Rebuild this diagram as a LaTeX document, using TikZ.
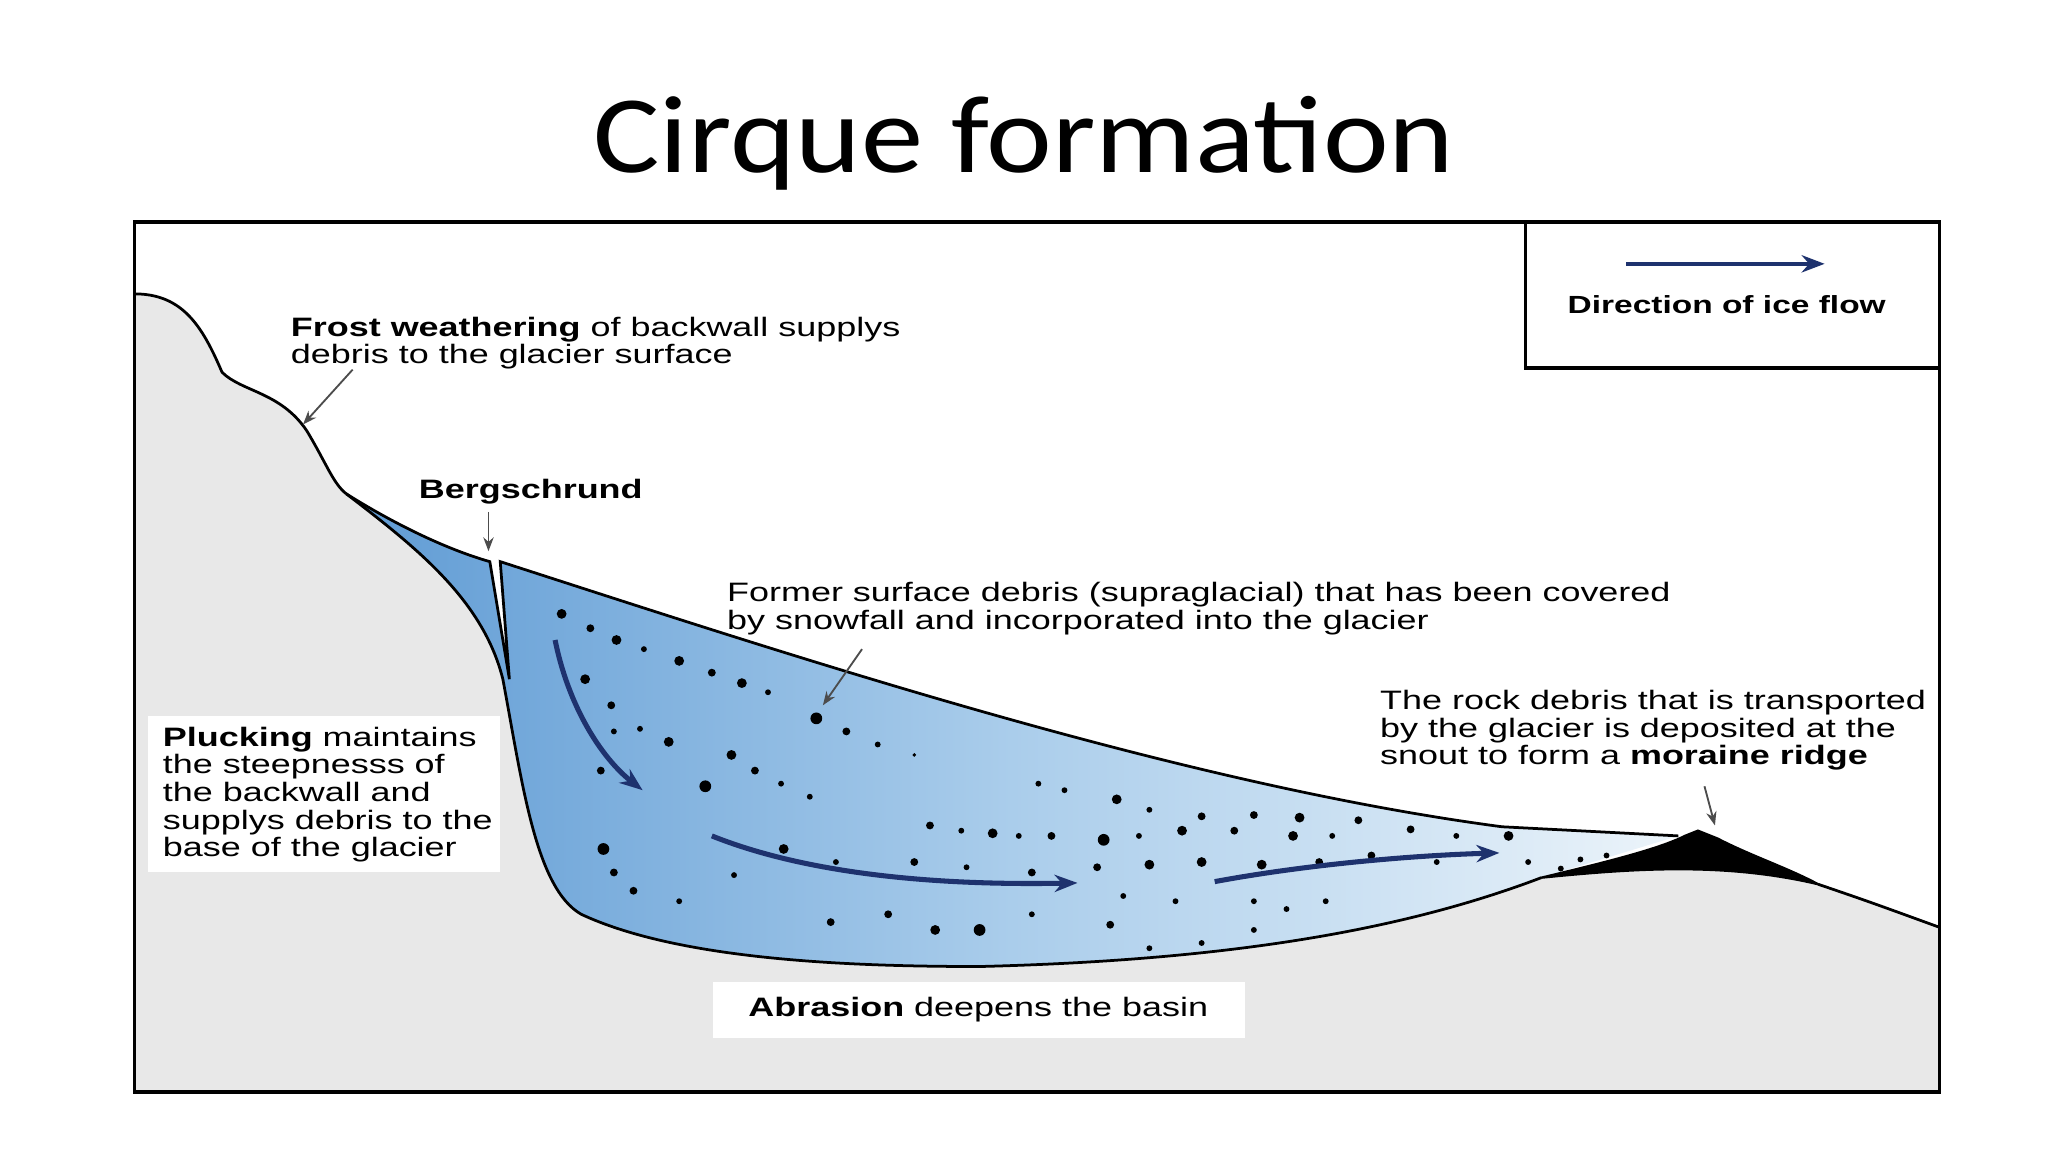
\documentclass[tikz,border=0pt]{standalone}
\usepackage{fontspec}
\usetikzlibrary{arrows.meta}
\setmainfont{Liberation Sans}[FakeStretch=1.35]
\newfontfamily\titlefont{Carlito}[FakeStretch=1.13]
\begin{document}
\begin{tikzpicture}[x=0.01cm,y=-0.01cm,
  lbl/.style={font=\fontsize{5.8}{6}\selectfont,align=left,inner sep=0pt},
  flow/.style={draw={rgb,255:red,30;green,50;blue,110},line width=1.1pt,-{Stealth[length=5pt]}},
  ptr/.style={draw=black!70,line width=0.4pt,-{Stealth[length=3pt]}}]
\useasboundingbox (0,0) rectangle (1568,882);
\fill[white] (0,0) rectangle (1568,882);
\node[font=\titlefont\fontsize{24}{28}\selectfont] (title) at (784,110) {Cirque formation};
% ground
\fill[black!9] (103,225) .. controls (140,225) and (155,250) .. (170,285)
  .. controls (185,300) and (215,300) .. (235,330)
  .. controls (250,355) and (255,370) .. (265,378)
  .. controls (320,420) and (370,460) .. (385,520)
  .. controls (400,600) and (410,680) .. (445,700)
  .. controls (520,735) and (650,740) .. (750,740)
  .. controls (950,735) and (1080,710) .. (1180,672)
  .. controls (1250,665) and (1320,660) .. (1392,677) .. controls (1430,690) .. (1485,710) -- (1485,836) -- (103,836) -- cycle;
\draw[line width=0.6pt] (103,225) .. controls (140,225) and (155,250) .. (170,285)
  .. controls (185,300) and (215,300) .. (235,330)
  .. controls (250,355) and (255,370) .. (265,378);
\draw[line width=0.6pt] (1392,677) .. controls (1430,690) .. (1485,710);
% ice
\shade[left color={rgb,255:red,95;green,155;blue,212},right color={rgb,255:red,236;green,244;blue,250},middle color={rgb,255:red,170;green,205;blue,235}]
  (265,378) .. controls (300,400) and (340,420) .. (375,430) -- (390,520) -- (383,430)
  .. controls (600,500) and (900,600) .. (1150,633) -- (1285,640)
  -- (1180,672) .. controls (1080,710) and (950,735) .. (750,740)
  .. controls (650,740) and (520,735) .. (445,700)
  .. controls (410,680) and (400,600) .. (385,520)
  .. controls (370,460) and (320,420) .. (265,378) -- cycle;
\draw[line width=0.6pt] (265,378) .. controls (300,400) and (340,420) .. (375,430) -- (390,520) -- (383,430)
  .. controls (600,500) and (900,600) .. (1150,633) -- (1285,640);
\draw[line width=0.6pt] (265,378) .. controls (320,420) and (370,460) .. (385,520)
  .. controls (400,600) and (410,680) .. (445,700)
  .. controls (520,735) and (650,740) .. (750,740)
  .. controls (950,735) and (1080,710) .. (1180,672);
% moraine
\filldraw[black,line width=0.5pt] (1180,672) .. controls (1230,660) and (1270,650) .. (1290,640) -- (1300,636) -- (1315,642)
  .. controls (1340,655) and (1370,665) .. (1392,677) .. controls (1320,660) and (1250,665) .. (1180,672) -- cycle;
% dots
\foreach \x/\y/\r in {430/470/2.5,452/481/2,472/490/2.5,493/497/1.5,520/506/2.5,545/515/2,568/523/2.5,588/530/1.5,
 448/520/2.5,468/540/2,490/558/1.5,512/568/2.5,540/602/3,560/578/2.5,578/590/2,598/600/1.5,620/610/1.5,
 460/590/2,470/560/1.5,625/550/3,648/560/2,672/570/1.5,700/578/1,
 462/650/3,470/668/2,485/682/2,520/690/1.5,562/670/1.5,600/650/2.5,640/660/1.5,680/700/2,636/706/2,
 716/712/2.5,750/712/3,790/700/1.5,850/708/2,880/726/1.5,920/722/1.5,960/712/1.5,
 712/632/2,736/636/1.5,760/638/2.5,780/640/1.5,805/640/2,845/643/3,872/640/1.5,905/636/2.5,945/636/2,990/640/2.5,1020/640/1.5,
 795/600/1.5,815/605/1.5,855/612/2.5,880/620/1.5,920/625/2,960/624/2,995/626/2.5,1040/628/2,1080/635/2,1115/640/1.5,1155/640/2.5,
 700/660/2,740/664/1.5,790/668/2,840/664/2,880/662/2.5,920/660/2.5,966/662/2.5,1010/660/2,1050/655/2,1100/660/1.5,1170/660/1.5,1210/658/1.5,
 960/690/1.5,985/696/1.5,1015/690/1.5,860/686/1.5,900/690/1.5,1195/665/1.5,1230/655/1.5}
  \fill (\x,\y) circle ({1.5*\r});
% flow arrows
\draw[flow] (425,490) .. controls (435,540) and (460,580) .. (492,605);
\draw[flow] (545,640) .. controls (620,670) and (720,678) .. (825,676);
\draw[flow] (930,675) .. controls (1000,662) and (1080,655) .. (1148,653);
% frame
\draw[line width=0.8pt] (103,170) rectangle (1485,836);
\draw[line width=0.8pt] (1168,170) rectangle (1485,282);
\coordinate (la) at (1245,202); \coordinate (lb) at (1397,202);
\draw[flow,line width=0.9pt] (la) -- (lb);
\node[lbl,font=\fontsize{5.4}{6}\selectfont\bfseries] (leg) at (1322,233) {Direction of ice flow};
% label backgrounds
\fill[white] (113,548) rectangle (383,668);
\fill[white] (546,752) rectangle (953,795);
% labels
\node[lbl,anchor=north west] (frost) at (222,242) {\textbf{Frost weathering} of backwall supplys\\debris to the glacier surface};
\node[lbl,anchor=north west,font=\fontsize{5.8}{6}\selectfont\bfseries] (berg) at (320,366) {Bergschrund};
\node[lbl,anchor=north west] (former) at (556,445) {Former surface debris (supraglacial) that has been covered\\by snowfall and incorporated into the glacier};
\node[lbl,anchor=north west] (rock) at (1056,528) {The rock debris that is transported\\by the glacier is deposited at the\\snout to form a \textbf{moraine ridge}};
\node[lbl,anchor=north west] (pluck) at (124,556) {\textbf{Plucking} maintains\\the steepnesss of\\the backwall and\\supplys debris to the\\base of the glacier};
\node[lbl] (abr) at (749,773) {\textbf{Abrasion} deepens the basin};
% pointers
\coordinate (f1) at (270,283); \coordinate (f2) at (232,325);
\draw[ptr] (f1) -- (f2);
\coordinate (b1) at (374,392); \coordinate (b2) at (374,422);
\draw[ptr] (b1) -- (b2);
\coordinate (s1) at (660,497); \coordinate (s2) at (630,540);
\draw[ptr] (s1) -- (s2);
\coordinate (m1) at (1305,602); \coordinate (m2) at (1313,632);
\draw[ptr] (m1) -- (m2);
\end{tikzpicture}
\end{document}
